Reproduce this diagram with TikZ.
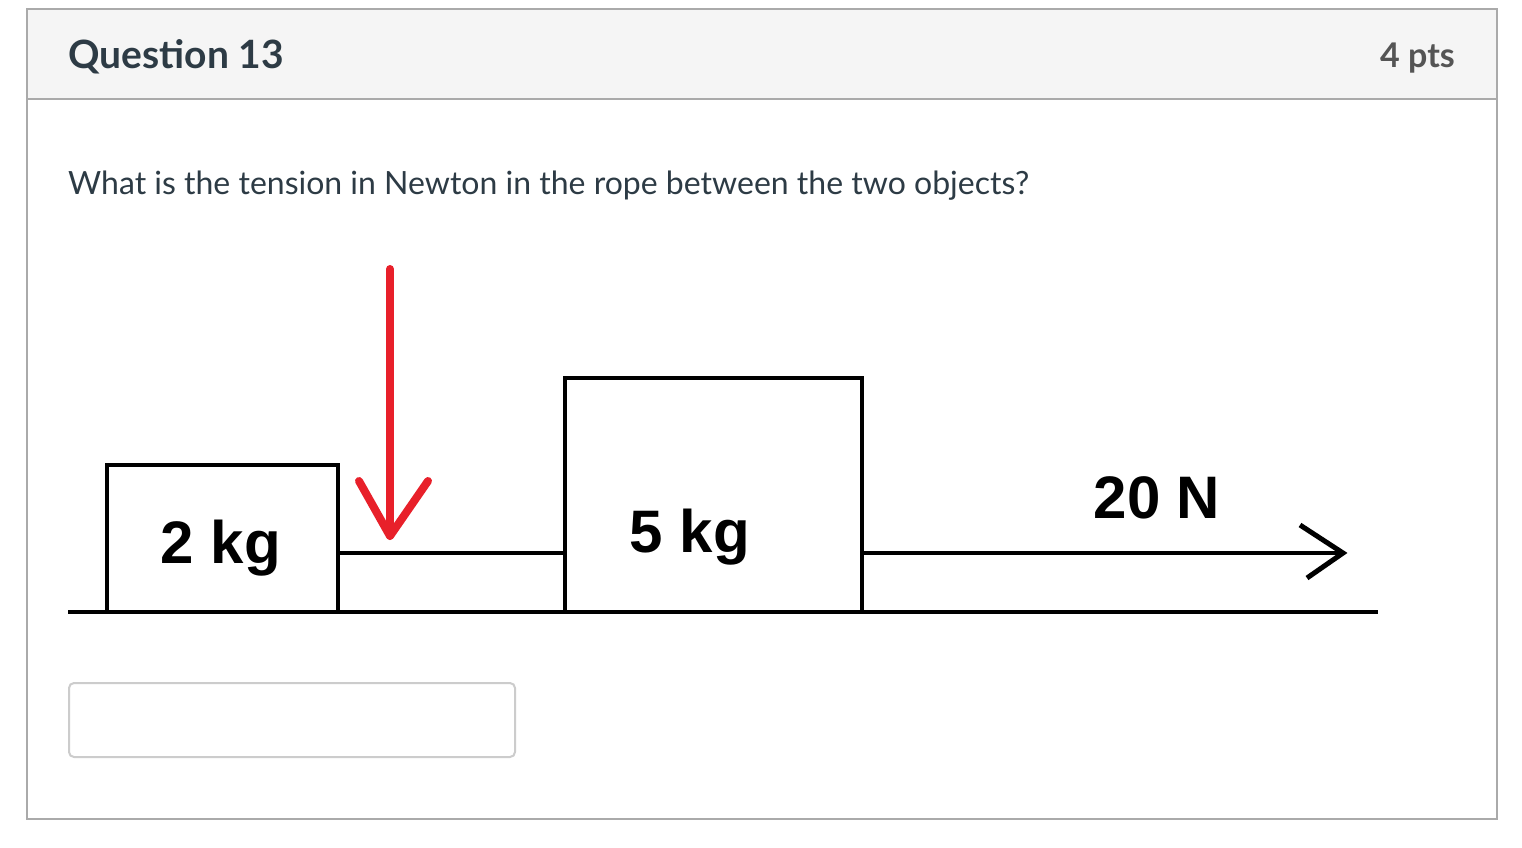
\documentclass[tikz,border=0pt]{standalone}
\usepackage{fontspec}
\setmainfont{Lato}
\newfontfamily\arialfont{Liberation Sans}
\definecolor{framegray}{HTML}{AAAAAA}
\definecolor{headfill}{HTML}{F5F5F5}
\definecolor{headtext}{HTML}{2D3B45}
\definecolor{ptstext}{HTML}{555555}
\definecolor{fieldgray}{HTML}{CCCCCC}
\definecolor{forcered}{HTML}{E8202A}
\tikzstyle{block} = [draw,line width=4pt,inner sep=0pt]
\tikzstyle{rope} = [line width=4pt]
\tikzstyle{barb} = [line width=5pt,line join=miter]
\tikzstyle{mass} = [font=\arialfont\bfseries\fontsize{60}{62}\selectfont,inner sep=0pt]
\tikzstyle{push} = [forcered,line width=8pt,line cap=round,line join=round]

\begin{document}
\begin{tikzpicture}[x=1pt,y=-1pt]
\useasboundingbox (0,0) rectangle (1522,847);
% page frame and header
\fill[white] (0,0) rectangle (1522,847);
\fill[headfill] (27,9) rectangle (1497,99);
\draw[framegray,line width=2pt] (27,9) rectangle (1497,819);
\draw[framegray,line width=2pt] (27,99) -- (1497,99);
\node[anchor=west,inner sep=0pt,text=headtext,font=\bfseries\fontsize{39}{40}\selectfont] (title) at (68,57) {Question 13};
\node[anchor=east,inner sep=0pt,text=ptstext,font=\bfseries\fontsize{34}{36}\selectfont] (pts) at (1455,58) {4 pts};
\node[anchor=west,inner sep=0pt,text=headtext,font=\fontsize{32}{34}\selectfont] (question) at (68,186) {What is the tension in Newton in the rope between the two objects?};

% blocks on the floor
\coordinate (floorL) at (68,612);
\coordinate (floorR) at (1378,612);
\coordinate (ropeY) at (0,553);
\node[block,minimum width=231pt,minimum height=147pt] (small) at (222.5,538.5) {};
\node[block,minimum width=297pt,minimum height=234pt] (big) at (713.5,495) {};
\node[mass] (m2) at (221,548) {2 kg};
\node[mass] (m5) at (690,537) {5 kg};
\node[mass] (F) at (1157,498) {20 N};
\coordinate (pull) at (1343,553);
\draw[line width=4.5pt] (floorL) -- (floorR);
\draw[rope] (small.east |- ropeY) -- (big.west |- ropeY);
\draw[rope] (big.east |- ropeY) -- (pull);
\draw[barb] ([shift={(-43,-28)}]pull) -- (pull) -- ([shift={(-36,25)}]pull);

% cut marker
\coordinate (cutTop) at (390,269);
\coordinate (cutTip) at (390,536);
\draw[push] (cutTop) -- (cutTip);
\draw[push] ([shift={(-31,-55)}]cutTip) -- (cutTip) -- ([shift={(38,-55)}]cutTip);

% answer field
\draw[fieldgray,line width=2pt,rounded corners=5pt] (69,683) rectangle (515,757);
\end{tikzpicture}
\end{document}
